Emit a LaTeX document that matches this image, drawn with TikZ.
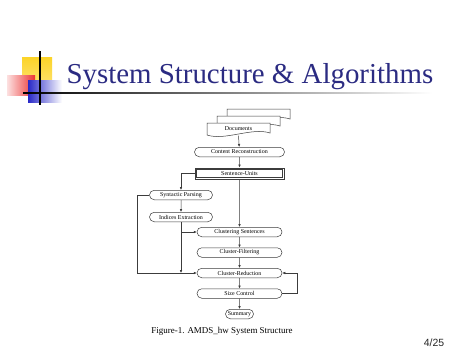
\documentclass[tikz,border=0pt]{standalone}
\usepackage{fontspec}
\setmainfont{Liberation Serif}
\newfontfamily\numfont{Liberation Sans}
\usepackage{xcolor}
\usetikzlibrary{arrows.meta,positioning,shapes.misc}
\definecolor{titleblue}{RGB}{43,43,130}
\definecolor{decoyellow}{RGB}{252,212,40}
\definecolor{decored}{RGB}{236,50,50}
\definecolor{decoblue}{RGB}{40,40,200}
\definecolor{linegray}{RGB}{60,60,60}

\begin{document}
\begin{tikzpicture}[
    x=1bp, y=-1bp,
    node distance=10.5bp,
    every node/.style={font=\fontsize{6}{7}\selectfont},
    proc/.style={draw=linegray, rounded rectangle, line width=0.5bp, minimum height=9.5bp, minimum width=87bp, inner sep=1bp},
    unit/.style={draw=linegray, line width=0.5bp, minimum height=11bp, minimum width=89bp, inner sep=1bp,
      append after command={
        \pgfextra{\draw[linegray, line width=0.6bp]
          ([shift={(1.6bp,-1.6bp)}]\tikzlastnode.north west) rectangle ([shift={(-1.6bp,1.6bp)}]\tikzlastnode.south east);}}},
    page/.style={draw=linegray, fill=white, line width=0.5bp},
    arr/.style={-{Latex[length=3bp,width=2.6bp]}, line width=0.5bp, draw=linegray}
  ]
  \fill[white] (0,0) rectangle (474,355);
  \useasboundingbox (0,0) rectangle (474,355);

  % Title decoration
  \shade[top color=decoyellow, bottom color=decoyellow!70] (22,57) rectangle (52,83);
  \shade[left color=decored!15, right color=decored] (7,75) rectangle (35,95);
  \shade[left color=decoblue, middle color=decoblue!85, right color=white] (28,80) rectangle (62,102);
  \shade[left color=black, middle color=black!60, right color=white] (23,92.2) rectangle (432,93.8);
  \fill[black] (39.3,51) rectangle (40.7,105);
  \node[anchor=base west, text=titleblue, font=\fontsize{29}{34}\selectfont] (title) at (63,83) {System Structure \& Algorithms};

  % Documents
  \foreach \dx/\dy in {20/-14, 10/-7, 0/0}
    \draw[page, shift={(\dx,\dy)}] (207,135) -- (207,123) -- (270,123) -- (270,133)
      .. controls (252,127) and (225,141) .. (207,135) -- cycle;
  \node[minimum width=63bp, minimum height=13bp, inner sep=0pt] (docs) at (238.5,129) {Documents};

  % Main column
  \node[proc, minimum width=92bp] (content) at (239.5,152) {Content Reconstruction};
  \node[unit, below=10.5bp of content] (units) {Sentence-Units};
  \node[proc, below=48bp of units] (clustering) {Clustering Sentences};
  \node[proc, below=of clustering] (filtering) {Cluster-Filtering};
  \node[proc, below=of filtering] (reduction) {Cluster-Reduction};
  \node[proc, below=of reduction] (size) {Size Control};
  \node[proc, minimum width=30bp, below=of size] (summary) {Summary};

  % Left column
  \node[proc, minimum width=65bp] (parsing) at (181,195) {Syntactic Parsing};
  \node[proc, minimum width=65bp, below=12bp of parsing] (indices) {Indices Extraction};

  \draw[arr] (docs.south) -- (content);
  \draw[arr] (content) -- (units);
  \draw[arr] (units) -- (clustering);
  \draw[arr] (units.west) -| (parsing.north);
  \draw[arr] (parsing) -- (indices);
  \draw[arr] (parsing.west) -- ++(-12bp,0) |- (reduction.west);
  \draw[arr] (indices.south) -- (indices.south |- reduction.west);
  \draw[arr] (indices.south |- clustering.west) -- (clustering.west);
  \draw[arr] (clustering) -- (filtering);
  \draw[arr] (filtering) -- (reduction);
  \draw[arr] (reduction) -- (size);
  \draw[arr] (size) -- (summary);
  \draw[arr] (size.east) -- ++(15bp,0) |- (reduction.east);

  \node[font=\fontsize{9}{11}\selectfont] (caption) at (222,331) {Figure-1. AMDS\_hw System Structure};
  \node[font=\numfont\fontsize{10.5}{12}\selectfont, text=black!85] (pagenum) at (434,343) {4/25};
\end{tikzpicture}
\end{document}
